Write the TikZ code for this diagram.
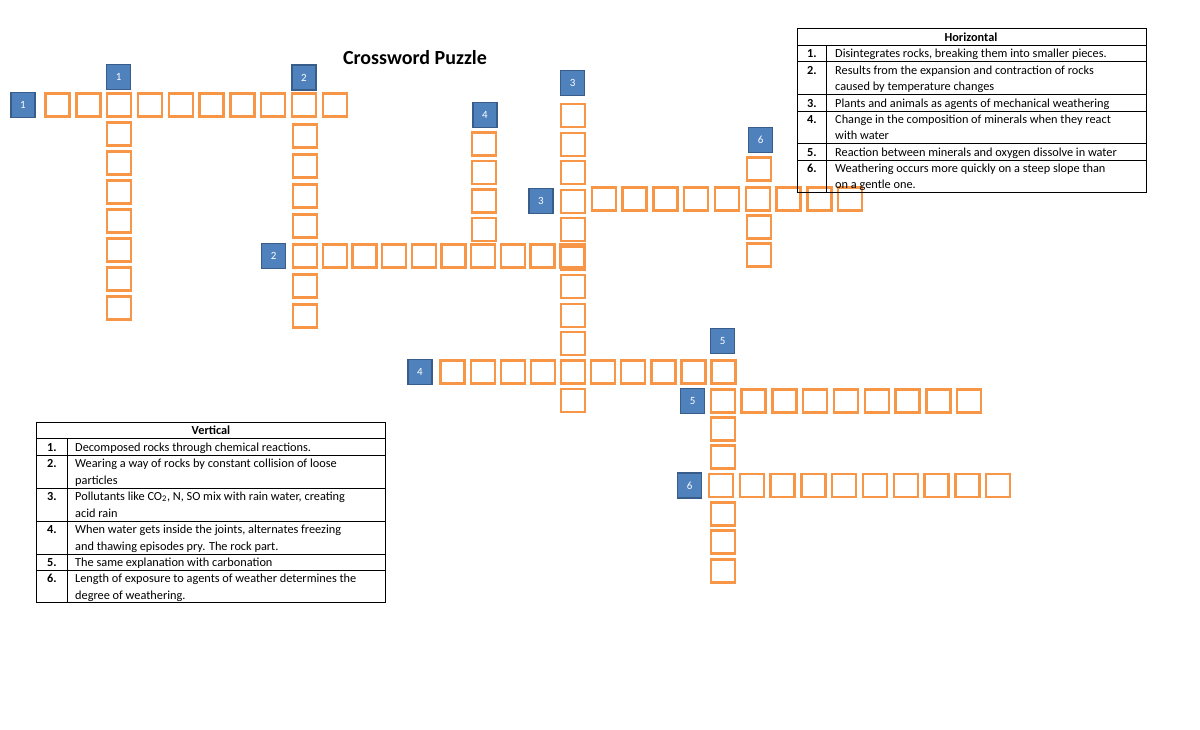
\documentclass[tikz,border=0pt]{standalone}
\usepackage{fontspec}
\setmainfont{Carlito}
\definecolor{cellor}{HTML}{F79646}
\definecolor{numbl}{HTML}{4F81BD}
\definecolor{numbd}{HTML}{385D8A}
\begin{document}
\begin{tikzpicture}[x=1pt,y=-1pt,
  cell/.style={draw=cellor,line width=2.4pt,minimum width=24pt,minimum height=23pt,inner sep=0pt},
  num/.style={fill=numbl,draw=numbd,line width=1.2pt,minimum width=24pt,minimum height=25pt,inner sep=0pt,text=white,font=\fontsize{11}{12}\selectfont},
  tx/.style={anchor=base west,inner sep=0pt,font=\fontsize{12.3}{14}\selectfont},
  tn/.style={anchor=base,inner sep=0pt,font=\fontsize{12.3}{14}\selectfont\bfseries},
  tl/.style={line width=0.8pt}]
\useasboundingbox (0,0) rectangle (1200,729);
\node[font=\fontsize{20}{24}\selectfont\bfseries] (title) at (415,58) {Crossword Puzzle};
% Row 1
\node[num] (h1) at (23,105) {1};
\foreach \i in {0,...,9} \node[cell] (ra\i) at (57.6+30.8*\i,105) {};
\node[num] (v1) at (118.6,77) {1};
\foreach \i in {1,...,7} \node[cell] (ca\i) at (119,105+29*\i) {};
% Col 2
\node[num] (v2) at (304,77.5) {2};
\foreach \i in {1,...,7} \node[cell] (cb\i) at (305,106+30*\i) {};
% Row 2
\node[num] (h2) at (273.6,256) {2};
\foreach \i in {1,...,9} \node[cell] (rb\i) at (305+29.7*\i,256) {};
% Col 3
\node[num] (v3) at (572.7,83) {3};
\foreach \i in {0,...,10} \node[cell] (cc\i) at (572.7,115.7+28.5*\i) {};
% Col 4
\node[num] (v4) at (485,114.7) {4};
\foreach \i in {0,...,3} \node[cell] (cd\i) at (484,143.8+28.5*\i) {};
% Row 3
\node[num] (h3) at (541,201) {3};
\foreach \i in {1,...,9} \node[cell] (rc\i) at (573+30.8*\i,199) {};
% Col 6
\node[num] (v6) at (760.6,140) {6};
\foreach \y [count=\k] in {169,227,255} \node[cell] (cf\k) at (759,\y) {};
% Row 4
\node[num] (h4) at (420,372) {4};
\foreach \i in {0,...,9} \node[cell] (rd\i) at (452.6+30.1*\i,372) {};
% Col 5
\node[num] (v5) at (722.6,341) {5};
\foreach \y [count=\k] in {429,457,514,542,571} \node[cell] (ce\k) at (722.7,\y) {};
% Row 5
\node[num] (h5) at (692.6,401) {5};
\foreach \i in {0,...,8} \node[cell] (re\i) at (722.7+30.8*\i,401) {};
% Row 6
\node[num] (h6) at (689.6,485.5) {6};
\foreach \i in {0,...,9} \node[cell] (rf\i) at (721+30.8*\i,485.5) {};
% Horizontal table
\draw[tl] (797,28) rectangle (1146,192);
\foreach \y in {45,61,94,111,143,160} \draw[tl] (797,\y) -- (1146,\y);
\draw[tl] (826,45) -- (826,192);
\node[tn] (hh) at (971,41) {Horizontal};
\foreach \y/\n in {57/1,74/2,107/3,123/4,156/5,172/6} \node[tn] (hn\n) at (812,\y) {\n.};
\node[tx] (ht1) at (835,57) {Disintegrates rocks, breaking them into smaller pieces.};
\node[tx] (ht2) at (835,74) {Results from the expansion and contraction of rocks};
\node[tx] (ht2b) at (835,90) {caused by temperature changes};
\node[tx] (ht3) at (835,107) {Plants and animals as agents of mechanical weathering};
\node[tx] (ht4) at (835,123) {Change in the composition of minerals when they react};
\node[tx] (ht4b) at (835,139) {with water};
\node[tx] (ht5) at (835,156) {Reaction between minerals and oxygen dissolve in water};
\node[tx] (ht6) at (835,172) {Weathering occurs more quickly on a steep slope than};
\node[tx] (ht6b) at (835,188) {on a gentle one.};
% Vertical table
\draw[tl] (36,422) rectangle (385,602);
\foreach \y in {438,455,488,521,554,570} \draw[tl] (36,\y) -- (385,\y);
\draw[tl] (67,438) -- (67,602);
\node[tn] (vh) at (211,434) {Vertical};
\foreach \y/\n in {451/1,467/2,500/3,533/4,566/5,582/6} \node[tn] (vn\n) at (52,\y) {\n.};
\node[tx] (vt1) at (75,451) {Decomposed rocks through chemical reactions.};
\node[tx] (vt2) at (75,467) {Wearing a way of rocks by constant collision of loose};
\node[tx] (vt2b) at (75,484) {particles};
\node[tx] (vt3) at (75,500) {Pollutants like CO\textsubscript{2}, N, SO mix with rain water, creating};
\node[tx] (vt3b) at (75,517) {acid rain};
\node[tx] (vt4) at (75,533) {When water gets inside the joints, alternates freezing};
\node[tx] (vt4b) at (75,550) {and thawing episodes pry. The rock part.};
\node[tx] (vt5) at (75,566) {The same explanation with carbonation};
\node[tx] (vt6) at (75,582) {Length of exposure to agents of weather determines the};
\node[tx] (vt6b) at (75,599) {degree of weathering.};
\end{tikzpicture}
\end{document}
